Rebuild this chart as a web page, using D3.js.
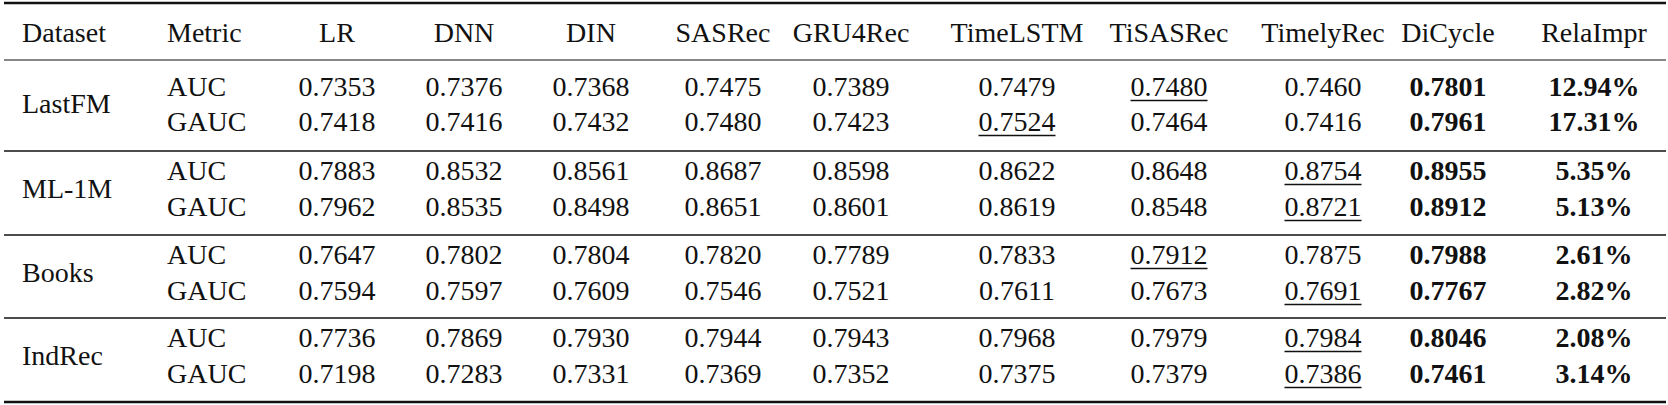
<!DOCTYPE html>
<html><head><meta charset="utf-8">
<script src="https://cdn.jsdelivr.net/npm/d3@7"></script>
<style>body{margin:0;background:#fff}svg{display:block}</style>
</head><body><svg id="chart" width="1668" height="405" font-family="'Liberation Serif', 'DejaVu Serif', serif" font-size="28" fill="#111"></svg>
<script>
var models = ['LR', 'DNN', 'DIN', 'SASRec', 'GRU4Rec', 'TimeLSTM', 'TiSASRec', 'TimelyRec', 'DiCycle'];
var datasets = ['LastFM', 'ML-1M', 'Books', 'IndRec'];
var metrics = ['AUC', 'GAUC'];
// rows: dataset x metric, values per model
var values = [
    [0.7353, 0.7376, 0.7368, 0.7475, 0.7389, 0.7479, 0.7480, 0.7460, 0.7801],
    [0.7418, 0.7416, 0.7432, 0.7480, 0.7423, 0.7524, 0.7464, 0.7416, 0.7961],
    [0.7883, 0.8532, 0.8561, 0.8687, 0.8598, 0.8622, 0.8648, 0.8754, 0.8955],
    [0.7962, 0.8535, 0.8498, 0.8651, 0.8601, 0.8619, 0.8548, 0.8721, 0.8912],
    [0.7647, 0.7802, 0.7804, 0.7820, 0.7789, 0.7833, 0.7912, 0.7875, 0.7988],
    [0.7594, 0.7597, 0.7609, 0.7546, 0.7521, 0.7611, 0.7673, 0.7691, 0.7767],
    [0.7736, 0.7869, 0.7930, 0.7944, 0.7943, 0.7968, 0.7979, 0.7984, 0.8046],
    [0.7198, 0.7283, 0.7331, 0.7369, 0.7352, 0.7375, 0.7379, 0.7386, 0.7461]
];
var relaImpr = ['12.94%', '17.31%', '5.35%', '5.13%', '2.61%', '2.82%', '2.08%', '3.14%'];
var underlined = [6, 5, 7, 7, 6, 7, 7, 7]; // second best column index per row

var svg = d3.select('#chart');
var columns = models.concat(['RelaImpr']);
var colX = d3.scaleOrdinal().domain(columns)
    .range([337, 464, 591, 723, 851, 1017, 1169, 1323, 1448, 1594]);
var groupTop = [60, 151, 235, 318];
var off = 9.5; // center -> baseline

function rowY(r) {
    var g = Math.floor(r / 2), top = groupTop[g];
    if (g === 0) return r % 2 ? 121 : 86;
    return top + (r % 2 ? 55 : 19);
}

// rules
[[3, 2.6], [60, 1.1], [151, 1.6], [235, 1.6], [318, 1.6], [402, 2.6]].forEach(function(d) {
    svg.append('line').attr('x1', 4).attr('x2', 1666).attr('y1', d[0]).attr('y2', d[0])
        .attr('stroke', '#111').attr('stroke-width', d[1]);
});

// header
svg.append('text').attr('x', 22).attr('y', 32 + off).text('Dataset');
svg.append('text').attr('x', 167).attr('y', 32 + off).text('Metric');
svg.selectAll('.hdr').data(columns).enter().append('text')
    .attr('x', function(d) { return colX(d); }).attr('y', 32 + off)
    .attr('text-anchor', 'middle').text(function(d) { return d; });

// dataset labels
svg.selectAll('.ds').data(datasets).enter().append('text')
    .attr('x', 22).attr('y', function(d, i) { return (rowY(2 * i) + rowY(2 * i + 1)) / 2 + off; })
    .text(function(d) { return d; });

values.forEach(function(row, r) {
    var y = rowY(r) + off;
    svg.append('text').attr('x', 167).attr('y', y).text(metrics[r % 2]);
    row.forEach(function(v, c) {
        var t = svg.append('text').attr('x', colX(models[c])).attr('y', y)
            .attr('text-anchor', 'middle').text(v.toFixed(4));
        if (c === models.length - 1) t.attr('font-weight', 'bold');
        if (c === underlined[r]) {
            var w = t.node().getComputedTextLength();
            svg.append('line').attr('x1', colX(models[c]) - w / 2).attr('x2', colX(models[c]) + w / 2)
                .attr('y1', y + 5).attr('y2', y + 5).attr('stroke', '#111').attr('stroke-width', 1.3);
        }
    });
    svg.append('text').attr('x', colX('RelaImpr')).attr('y', y).attr('text-anchor', 'middle')
        .attr('font-weight', 'bold').text(relaImpr[r]);
});
</script></body></html>
